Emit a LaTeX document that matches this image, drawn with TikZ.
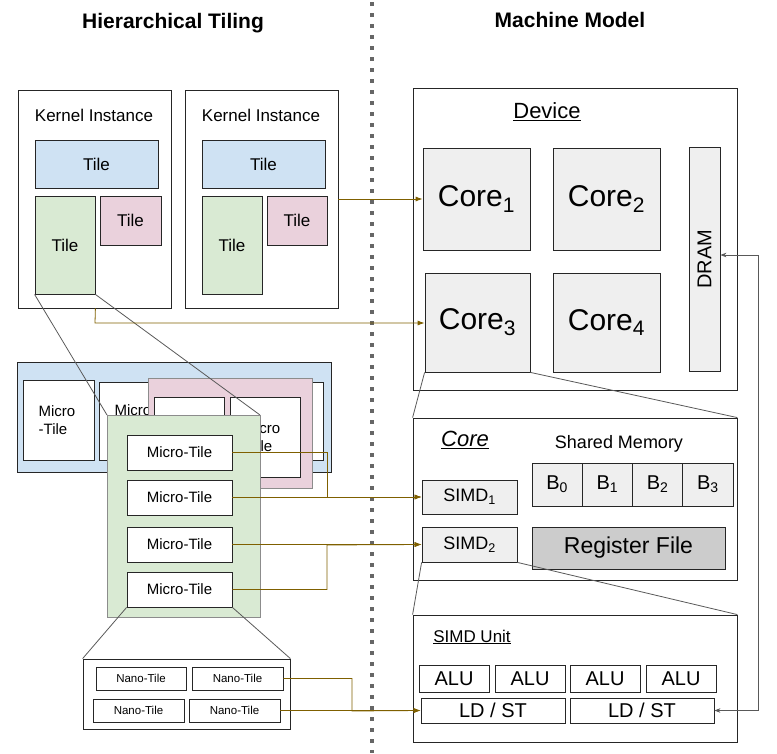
\documentclass[tikz,border=0pt]{standalone}
\usepackage{fontspec}
\setmainfont{Liberation Sans}
\usetikzlibrary{arrows.meta,fit}
\definecolor{olive}{HTML}{7F6000}
\definecolor{tileblue}{HTML}{CFE2F3}
\definecolor{tilegreen}{HTML}{D9EAD3}
\definecolor{tilepink}{HTML}{EAD1DC}
\definecolor{unitgray}{HTML}{EFEFEF}
\definecolor{regfile}{HTML}{CCCCCC}
\tikzset{frame/.style={rectangle,draw=black!85,fill=white,thick,inner sep=0pt}}
\tikzset{txt/.style 2 args={label={[font=\fontsize{#1}{#1}\selectfont]center:#2}}}
\tikzset{tileB/.style={frame,fill=tileblue}}
\tikzset{tileG/.style={frame,fill=tilegreen}}
\tikzset{tileP/.style={frame,fill=tilepink}}
\tikzset{core/.style={frame,fill=unitgray}}
\tikzset{toArrow/.style={-{Latex[length=7pt,width=5pt]},olive,thick}}
\tikzset{zoomLine/.style={black!65,thick}}

\begin{document}
\begin{tikzpicture}[x=1pt,y=-1pt]
\useasboundingbox (0,0) rectangle (777,753);
\draw[black!60,line width=4pt,dash pattern=on 4pt off 7pt] (372,2) -- (372,753);
\node (titleL) at (173,23) {\fontsize{21}{21}\selectfont\bfseries Hierarchical Tiling};
\node (titleR) at (570,20) {\fontsize{21}{21}\selectfont\bfseries Machine Model};
% kernel instances
\node (kern1) [frame, fit={(18,90) (171,308)}] {};
\node (kern1lbl) at (94,115) {\fontsize{17}{17}\selectfont Kernel Instance};
\node (k1blue) [tileB, fit={(35,140) (158,188)}, txt={17}{Tile}] {};
\node (k1green) [tileG, fit={(35,196) (95,294)}, txt={17}{Tile}] {};
\node (k1pink) [tileP, fit={(100,196) (161,245)}, txt={17}{Tile}] {};
\node (kern2) [frame, fit={(185,90) (338,308)}] {};
\node (kern2lbl) at (261,115) {\fontsize{17}{17}\selectfont Kernel Instance};
\node (k2blue) [tileB, fit={(202,140) (325,188)}, txt={17}{Tile}] {};
\node (k2green) [tileG, fit={(202,196) (262,294)}, txt={17}{Tile}] {};
\node (k2pink) [tileP, fit={(267,196) (327,245)}, txt={17}{Tile}] {};
% device
\node (device) [frame, fit={(413,88) (737,390)}] {};
\node (devlbl) at (547,112) {\fontsize{22}{22}\selectfont\underline{Device}};
\node (core1) [core, fit={(423,148) (530,250)}, txt={30}{Core\textsubscript{1}}] {};
\node (core2) [core, fit={(553,148) (660,250)}, txt={30}{Core\textsubscript{2}}] {};
\node (core3) [core, fit={(425,273) (530,372)}, txt={30}{Core\textsubscript{3}}] {};
\node (core4) [core, fit={(553,273) (660,372)}, txt={30}{Core\textsubscript{4}}] {};
\node (dram) [core, fit={(689,147) (720,371)}] {};
\node at (dram.center) [rotate=90] {\fontsize{20}{20}\selectfont DRAM};
% core
\node (corebox) [frame, fit={(413,418) (737,580)}] {};
\node (corelbl) at (465,440) {\fontsize{22}{22}\selectfont\underline{\itshape Core}};
\node (smemlbl) at (619,444) {\fontsize{18}{18}\selectfont Shared Memory};
\foreach \i in {0,1,2,3}
  \node (bank\i) [core, fit={({532+50.25*\i},463) ({582.25+50.25*\i},506)}, txt={20}{B\textsubscript{\i}}] {};
\node (simd1) [core, fit={(422,480) (517,514)}, txt={18}{SIMD\textsubscript{1}}] {};
\node (simd2) [core, fit={(422,527) (517,562)}, txt={18}{SIMD\textsubscript{2}}] {};
\node (regs) [core, fill=regfile, fit={(532,527) (725,569)}, txt={23}{Register File}] {};
% simd unit
\node (simdbox) [frame, fit={(413,615) (737,742)}] {};
\node (simdlbl) at (472,637) {\fontsize{17}{17}\selectfont\underline{SIMD Unit}};
\node (alu1) [frame, fit={(419,665) (489,692)}, txt={20}{ALU}] {};
\node (alu2) [frame, fit={(495,665) (565,692)}, txt={20}{ALU}] {};
\node (alu3) [frame, fit={(570,665) (640,692)}, txt={20}{ALU}] {};
\node (alu4) [frame, fit={(646,665) (716,692)}, txt={20}{ALU}] {};
\node (ldst1) [frame, fit={(421,698) (565,723)}, txt={20}{LD / ST}] {};
\node (ldst2) [frame, fit={(570,698) (714,723)}, txt={20}{LD / ST}] {};
% micro tiles
\node (strip) [frame, fill=tileblue, fit={(17,362) (331,472)}] {};
\node (mt1) [frame, fit={(23,380) (94,460)}] {};
\node (mt1lbl) [align=left, font=\fontsize{15}{18}\selectfont] at (57,420) {Micro\\-Tile};
\node (mt2) [frame, fit={(99,382) (323,460)}] {};
\node (mt2lbl) [align=left, font=\fontsize{15}{18}\selectfont] at (133,410) {Micro};
\node (pink) [frame, draw=black!45, fill=tilepink, fit={(148,378) (312,488)}] {};
\node (pt1) [frame, fit={(154,397) (224,477)}] {};
\node (pt2) [frame, fit={(230,397) (300,477)}] {};
\node (pt2lbl) [align=left, font=\fontsize{15}{18}\selectfont] at (262,437) {Micro\\-Tile};
\draw[zoomLine] (k1green.south west) -- (107,415);
\draw[zoomLine] (k1green.south east) -- (260,415);
\node (green) [frame, draw=black!45, fill=tilegreen, fit={(107,415) (260,617)}] {};
\node (m1) [frame, fit={(127,435) (232,470)}, txt={15}{Micro-Tile}] {};
\node (m2) [frame, fit={(127,480) (232,515)}, txt={15}{Micro-Tile}] {};
\node (m3) [frame, fit={(127,527) (232,562)}, txt={15}{Micro-Tile}] {};
\node (m4) [frame, fit={(127,572) (232,607)}, txt={15}{Micro-Tile}] {};
% nano tiles
\node (nanobox) [frame, fit={(83,659) (290,729)}] {};
\node (n1) [frame, fit={(96,667) (186,690)}, txt={11.5}{Nano-Tile}] {};
\node (n2) [frame, fit={(192,667) (283,690)}, txt={11.5}{Nano-Tile}] {};
\node (n3) [frame, fit={(93,699) (184,722)}, txt={11.5}{Nano-Tile}] {};
\node (n4) [frame, fit={(189,699) (280,722)}, txt={11.5}{Nano-Tile}] {};
\draw[zoomLine] (m4.south west) -- (nanobox.north west);
\draw[zoomLine] (m4.south east) -- (nanobox.north east);
\draw[zoomLine] (core3.south west) -- (corebox.north west);
\draw[zoomLine] (core3.south east) -- (corebox.north east);
\draw[zoomLine] (simd2.south west) -- (simdbox.north west);
\draw[zoomLine] (simd2.south east) -- (simdbox.north east);
% mappings
\draw[toArrow] (kern2.east |- core1.west) -- (core1.west);
\draw[toArrow] (k1green.south east |- kern1.south) -- (95,323) -- (core3.west |- 0,323);
\draw[toArrow] (m1.east) -| (327,497) -- (simd1.west);
\draw[toArrow] (m2.east |- simd1.west) -- (simd1.west);
\draw[toArrow] (m3.east |- simd2.west) -- (simd2.west);
\draw[toArrow] (m4.east) -| (327,545) -- (simd2.west);
\draw[toArrow] (n2.east) -| (352,711) -- (ldst1.west);
\draw[toArrow] (n4.east |- ldst1.west) -- (ldst1.west);
\draw[{Stealth[length=6pt]}-{Stealth[length=6pt]},black!65,thick] (ldst2.east) -| (758,255) -- (dram.east |- 0,255);
\end{tikzpicture}
\end{document}
